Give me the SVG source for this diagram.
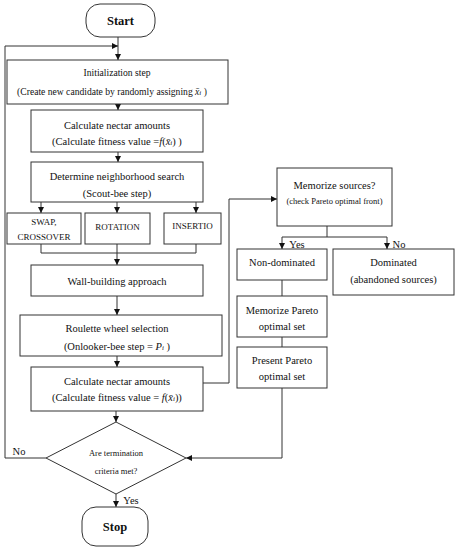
<svg xmlns="http://www.w3.org/2000/svg" width="459" height="550" viewBox="0 0 459 550" font-family="'Liberation Serif', 'DejaVu Serif', serif">
<style>
.b{fill:#fff;stroke:#333;stroke-width:1}
.c{fill:none;stroke:#333;stroke-width:1}
text{font-family:'Liberation Serif','DejaVu Serif',serif;fill:#111;text-anchor:middle}
.t10{font-size:10.5px}
.t9{font-size:9px}
.t8{font-size:8.5px}
.ti{font-size:9.6px}
.bold{font-size:12.5px;font-weight:bold}
.i{font-style:italic}
</style>
<defs>
<marker id="ah" viewBox="0 0 10 10" refX="10" refY="5" markerWidth="6" markerHeight="6" markerUnits="userSpaceOnUse" orient="auto">
<path d="M0,0 L10,5 L0,10 z" fill="#111"/>
</marker>
</defs>
<rect width="459" height="550" fill="#fff"/>
<g id="connectors">
<path class="c" d="M118 37 V60" marker-end="url(#ah)"/>
<path class="c" d="M46 458 H5 V46 H118" marker-end="url(#ah)"/>
<path class="c" d="M118 104 V110" marker-end="url(#ah)"/>
<path class="c" d="M118 152 V162" marker-end="url(#ah)"/>
<path class="c" d="M41 202 V213" marker-end="url(#ah)"/>
<path class="c" d="M117 202 V213" marker-end="url(#ah)"/>
<path class="c" d="M196 202 V213" marker-end="url(#ah)"/>
<path class="c" d="M41 244 V253 H196 V244"/>
<path class="c" d="M117 244 V265" marker-end="url(#ah)"/>
<path class="c" d="M117 296 V315" marker-end="url(#ah)"/>
<path class="c" d="M117 356 V367" marker-end="url(#ah)"/>
<path class="c" d="M203 383 H229 V199 H277" marker-end="url(#ah)"/>
<path class="c" d="M327 226 V237 M282 237 H387"/>
<path class="c" d="M282 237 V249" marker-end="url(#ah)"/>
<path class="c" d="M387 237 V249" marker-end="url(#ah)"/>
<path class="c" d="M282 280 V296"/>
<path class="c" d="M282 337 V347"/>
<path class="c" d="M282 388 V458 H186" marker-end="url(#ah)"/>
<path class="c" d="M116 411 V422" marker-end="url(#ah)"/>
<path class="c" d="M116 494 V507" marker-end="url(#ah)"/>
<text class="t10" x="19" y="455">No</text>
<text class="t10" x="131" y="504">Yes</text>
<text class="t10" x="297" y="248">Yes</text>
<text class="t10" x="399" y="248">No</text>
</g>
<g id="start">
<rect class="b" x="86" y="4" width="69" height="33" rx="14"/>
<text class="bold" x="120.5" y="25">Start</text>
</g>
<g id="init">
<rect class="b" x="7" y="60" width="221" height="44"/>
<text class="ti" x="117" y="76">Initialization step</text>
<text class="ti" x="112" y="95">(Create new candidate by randomly assigning   <tspan class="i">x̄</tspan><tspan font-size="7" class="i">i</tspan> )</text>
</g>
<g id="calc1">
<rect class="b" x="31" y="110" width="172" height="42"/>
<text class="t10" x="117" y="129">Calculate nectar amounts</text>
<text class="t10" x="117" y="145">(Calculate fitness value =<tspan class="i">f</tspan>(<tspan class="i">x̄</tspan><tspan font-size="7" class="i">i</tspan>) )</text>
</g>
<g id="determine">
<rect class="b" x="31" y="162" width="172" height="40"/>
<text class="t10" x="117" y="180">Determine neighborhood search</text>
<text class="t10" x="117" y="197">(Scout-bee step)</text>
</g>
<g id="swap">
<rect class="b" x="7" y="213" width="74" height="31"/>
<text class="t9" x="44" y="225">SWAP,</text>
<text class="t9" x="44" y="240">CROSSOVER</text>
</g>
<g id="rotation">
<rect class="b" x="85" y="213" width="65" height="31"/>
<text class="t9" x="117.5" y="230">ROTATION</text>
</g>
<g id="insertio">
<rect class="b" x="164" y="213" width="57" height="31"/>
<text class="t9" x="192.5" y="229">INSERTIO</text>
</g>
<g id="wall">
<rect class="b" x="31" y="265" width="172" height="31"/>
<text class="t10" x="117" y="285">Wall-building approach</text>
</g>
<g id="roulette">
<rect class="b" x="20" y="315" width="202" height="41"/>
<text class="t10" x="117" y="332">Roulette wheel selection</text>
<text class="t10" x="117" y="350">(Onlooker-bee step = <tspan class="i">P</tspan><tspan font-size="7" class="i">i</tspan> )</text>
</g>
<g id="calc2">
<rect class="b" x="31" y="367" width="172" height="44"/>
<text class="t10" x="117" y="385">Calculate nectar amounts</text>
<text class="t10" x="117" y="401">(Calculate fitness value =  <tspan class="i">f</tspan>(<tspan class="i">x̄</tspan><tspan font-size="7" class="i">i</tspan>))</text>
</g>
<g id="memorize">
<rect class="b" x="277" y="168" width="115" height="58"/>
<text class="t10" x="334.5" y="189">Memorize sources?</text>
<text class="t8" x="334.5" y="204">(check Pareto optimal front)</text>
</g>
<g id="nondominated">
<rect class="b" x="237" y="249" width="90" height="31"/>
<text class="t10" x="282" y="266">Non-dominated</text>
</g>
<g id="dominated">
<rect class="b" x="333" y="249" width="121" height="46"/>
<text class="t10" x="393.5" y="266">Dominated</text>
<text class="t10" x="393.5" y="283">(abandoned sources)</text>
</g>
<g id="mempareto">
<rect class="b" x="237" y="296" width="90" height="41"/>
<text class="t10" x="282" y="314">Memorize Pareto</text>
<text class="t10" x="282" y="330">optimal set</text>
</g>
<g id="present">
<rect class="b" x="237" y="347" width="90" height="41"/>
<text class="t10" x="282" y="364">Present Pareto</text>
<text class="t10" x="282" y="380">optimal set</text>
</g>
<g id="termination">
<polygon class="b" points="116,422 186,458 116,494 46,458"/>
<text class="t8" x="116" y="456">Are termination</text>
<text class="t8" x="116" y="474">criteria met?</text>
</g>
<g id="stop">
<rect class="b" x="82" y="507" width="66" height="39" rx="14"/>
<text class="bold" x="115" y="531">Stop</text>
</g>
</svg>
